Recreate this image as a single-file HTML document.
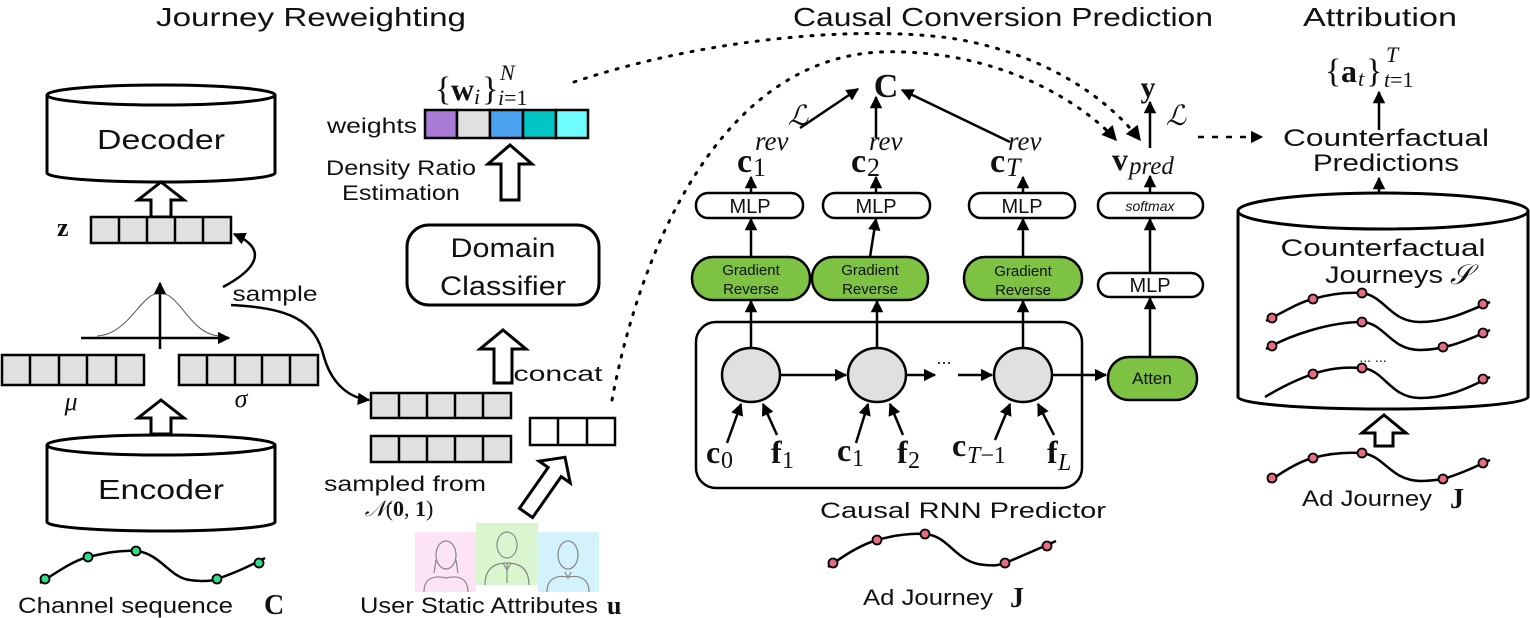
<!DOCTYPE html>
<html><head><meta charset="utf-8"><style>
html,body{margin:0;padding:0;background:#fff}
svg{display:block}
.t{font-family:"Liberation Sans",sans-serif;fill:#111}
.m{font-family:"Liberation Serif",serif;fill:#111}
.b{font-weight:bold}
.i{font-style:italic}
</style></head><body>
<svg width="1530" height="618" viewBox="0 0 1530 618" xmlns="http://www.w3.org/2000/svg">
<defs>
<marker id="ah" viewBox="0 0 10 10" refX="9" refY="5" markerWidth="5" markerHeight="5" orient="auto-start-reverse"><path d="M0,0 L10,5 L0,10 z" fill="#000"/></marker>
</defs>

<!-- Titles -->
<text class="t" x="311" y="26" font-size="26" text-anchor="middle" textLength="310" lengthAdjust="spacingAndGlyphs">Journey Reweighting</text>
<text class="t" x="1003" y="26" font-size="26" text-anchor="middle" textLength="420" lengthAdjust="spacingAndGlyphs">Causal Conversion Prediction</text>
<text class="t" x="1380" y="26" font-size="26" text-anchor="middle" textLength="154" lengthAdjust="spacingAndGlyphs">Attribution</text>

<g stroke="#000" stroke-width="3" fill="none">
<path d="M47,95 L47,173 A114,9 0 0 0 275,173 L275,95" fill="#fff"/>
<ellipse cx="161" cy="95" rx="114" ry="10" fill="#fff"/>
<path d="M47,445 L47,522 A114,9 0 0 0 275,522 L275,445" fill="#fff"/>
<ellipse cx="161" cy="445" rx="114" ry="10" fill="#fff"/>
<polygon points="161,182 184,200 171,200 171,217 151,217 151,200 138,200" fill="#fff"/>
<polygon points="161,400 184,418 171,418 171,434 151,434 151,418 138,418" fill="#fff"/>
<polygon points="510,145 532,164 519,164 519,200 501,200 501,164 488,164" fill="#fff"/>
<polygon points="503,330 526,349 512,349 512,383 494,383 494,349 480,349" fill="#fff"/>
<polygon points="1384,415 1406,433 1393,433 1393,446 1375,446 1375,433 1362,433" fill="#fff"/>
<polygon transform="translate(526,513) rotate(35)" points="0,-68 19,-50 8,-50 8,0 -8,0 -8,-50 -19,-50" fill="#fff"/>
<rect x="407" y="225" width="192" height="80" rx="22" fill="#fff"/>
</g>

<g stroke="#000" stroke-width="2.5">
<g fill="#e0e0e0">
<rect x="91" y="217" width="140" height="26"/>
<rect x="2" y="355" width="142" height="30"/>
<rect x="179" y="355" width="139" height="30"/>
<rect x="371" y="393" width="140" height="25"/>
<rect x="371" y="436" width="140" height="26"/>
</g>
<path d="M119,217v26M147,217v26M175,217v26M203,217v26 M30,355v30M59,355v30M87,355v30M116,355v30 M207,355v30M235,355v30M262,355v30M290,355v30 M399,393v25M427,393v25M455,393v25M483,393v25 M399,436v26M427,436v26M455,436v26M483,436v26"/>
<rect x="530" y="418" width="85" height="27" fill="#fff"/>
<path d="M558,418v27M587,418v27"/>
<rect x="425" y="110" width="32" height="28" fill="#a97bd6"/>
<rect x="457" y="110" width="33" height="28" fill="#e0e0e0"/>
<rect x="490" y="110" width="33" height="28" fill="#4aa3ef"/>
<rect x="523" y="110" width="33" height="28" fill="#00c5c5"/>
<rect x="556" y="110" width="32" height="28" fill="#6ffcfc"/>
</g>

<path d="M97,336 C130,334 140,293 160,293 C180,293 190,334 219,336" stroke="#555" stroke-width="1" fill="none"/>
<line x1="81" y1="338" x2="229" y2="338" stroke="#000" stroke-width="2.5" marker-end="url(#ah)"/>
<line x1="160" y1="349" x2="160" y2="283" stroke="#000" stroke-width="2.5" marker-end="url(#ah)"/>

<path d="M223,287 C255,270 270,250 234,234" stroke="#000" stroke-width="2.5" fill="none" marker-end="url(#ah)"/>
<path d="M231,305 C290,308 315,320 324,357 C332,385 350,398 369,400" stroke="#000" stroke-width="2.5" fill="none" marker-end="url(#ah)"/>

<text class="t" x="161" y="149" font-size="28" text-anchor="middle" textLength="128" lengthAdjust="spacingAndGlyphs">Decoder</text>
<text class="t" x="161" y="499" font-size="28" text-anchor="middle" textLength="126" lengthAdjust="spacingAndGlyphs">Encoder</text>
<text class="m b" x="57" y="236" font-size="26">z</text>
<text class="t" x="275" y="301" font-size="21" text-anchor="middle" textLength="85" lengthAdjust="spacingAndGlyphs">sample</text>
<text class="m i" x="71" y="410" font-size="26" text-anchor="middle">μ</text>
<text class="m i" x="241" y="407" font-size="26" text-anchor="middle">σ</text>
<text class="t" x="372" y="133" font-size="21" text-anchor="middle" textLength="90" lengthAdjust="spacingAndGlyphs">weights</text>
<text class="t" x="401" y="175" font-size="21" text-anchor="middle" textLength="150" lengthAdjust="spacingAndGlyphs">Density Ratio</text>
<text class="t" x="401" y="200" font-size="21" text-anchor="middle" textLength="118" lengthAdjust="spacingAndGlyphs">Estimation</text>
<text class="t" x="503" y="257" font-size="27" text-anchor="middle" textLength="105" lengthAdjust="spacingAndGlyphs">Domain</text>
<text class="t" x="503" y="295" font-size="27" text-anchor="middle" textLength="126" lengthAdjust="spacingAndGlyphs">Classifier</text>
<text class="t" x="558" y="381" font-size="21" text-anchor="middle" textLength="89" lengthAdjust="spacingAndGlyphs">concat</text>
<text class="t" x="405" y="491" font-size="21" text-anchor="middle" textLength="162" lengthAdjust="spacingAndGlyphs">sampled from</text>
<text class="m" x="399" y="516" font-size="22" text-anchor="middle"><tspan class="i">𝒩</tspan>(<tspan class="b">0</tspan>, <tspan class="b">1</tspan>)</text>
<!-- {w_i}_{i=1}^N -->
<text class="m" x="435" y="100" font-size="34">{</text>
<text class="m b" x="451" y="100" font-size="32">w</text>
<text class="m i" x="474" y="104" font-size="22">i</text>
<text class="m" x="482" y="100" font-size="34">}</text>
<text class="m i" x="500" y="80" font-size="22">N</text>
<text class="m" x="498" y="105" font-size="22"><tspan class="i">i</tspan>=1</text>

<path d="M40,583 C60,570 75,560 88,557 C105,553 120,550 136,551 C160,553 170,578 190,580 C205,582 212,581 217,579 C235,573 250,566 265,558" stroke="#000" stroke-width="2.5" fill="none"/>
<g fill="#33dd88" stroke="#000" stroke-width="1.8">
<circle cx="45" cy="579" r="4.5"/><circle cx="88" cy="557" r="4.5"/><circle cx="136" cy="551" r="4.5"/><circle cx="217" cy="579" r="4.5"/><circle cx="259" cy="563" r="4.5"/>
</g>
<text class="t" x="18" y="613" font-size="22" textLength="215" lengthAdjust="spacingAndGlyphs">Channel sequence</text>
<text class="m b" x="264" y="614" font-size="28">C</text>

<rect x="415" y="532" width="61" height="60" fill="#fce4f6"/>
<rect x="476" y="523" width="62" height="62" fill="#d9f6cf"/>
<rect x="538" y="532" width="61" height="60" fill="#d4f2fc"/>
<g stroke="#888" stroke-width="1.2" fill="none">
<ellipse cx="446" cy="555" rx="10" ry="14"/><path d="M436,560 L434,573 M456,560 L458,573 M424,592 C424,578 434,575 446,578 C458,575 468,578 468,592"/>
<ellipse cx="507" cy="545" rx="10" ry="13"/><path d="M485,585 C485,568 495,563 507,563 C519,563 529,568 529,585 M507,563 L507,583 M503,563 L507,570 L511,563"/>
<ellipse cx="568" cy="555" rx="10" ry="14"/><path d="M547,592 C547,578 557,575 568,577 C579,575 589,578 589,592 M565,572 L568,578 L571,572"/>
</g>
<text class="t" x="360" y="613" font-size="22" textLength="238" lengthAdjust="spacingAndGlyphs">User Static Attributes</text>
<text class="m b" x="607" y="614" font-size="26">u</text>

<path d="M574,82 C700,40 850,25 950,38 C1040,52 1105,95 1140,140" stroke="#000" stroke-width="3" stroke-dasharray="2 9" stroke-linecap="round" fill="none" marker-end="url(#ah)"/>
<path d="M612,400 C640,250 720,60 880,52 C1000,48 1085,105 1116,140" stroke="#000" stroke-width="3" stroke-dasharray="2 9" stroke-linecap="round" fill="none" marker-end="url(#ah)"/>

<text class="m b" x="886" y="97" font-size="34" text-anchor="middle">C</text>
<g stroke="#000" stroke-width="2.5" marker-end="url(#ah)">
<line x1="800" y1="128" x2="858" y2="89"/>
<line x1="876" y1="138" x2="876" y2="97"/>
<line x1="1010" y1="142" x2="902" y2="90"/>
<line x1="1150" y1="148" x2="1150" y2="102"/>
</g>
<text class="m i" x="798" y="125" font-size="28" text-anchor="middle">ℒ</text>
<text class="m i" x="1176" y="125" font-size="28" text-anchor="middle">ℒ</text>
<text class="m b" x="1148" y="97" font-size="30" text-anchor="middle">y</text>

<text class="m b" x="737" y="172" font-size="34">c</text><text class="m" x="753" y="176" font-size="26">1</text><text class="m i" x="755" y="150" font-size="27">rev</text>
<text class="m b" x="851" y="172" font-size="34">c</text><text class="m" x="867" y="176" font-size="26">2</text><text class="m i" x="869" y="150" font-size="27">rev</text>
<text class="m b" x="990" y="172" font-size="34">c</text><text class="m i" x="1006" y="176" font-size="26">T</text><text class="m i" x="1008" y="150" font-size="27">rev</text>
<text class="m b" x="1112" y="170" font-size="32">v</text><text class="m i" x="1129" y="174" font-size="25">pred</text>

<line x1="1198" y1="137" x2="1262" y2="137" stroke="#000" stroke-width="2.5" stroke-dasharray="6 8" marker-end="url(#ah)"/>

<g stroke="#000" stroke-width="2.5" fill="#fff">
<rect x="696" y="193" width="107" height="25" rx="12"/>
<rect x="823" y="193" width="107" height="25" rx="12"/>
<rect x="969" y="193" width="106" height="25" rx="12"/>
<rect x="1098" y="193" width="105" height="25" rx="12"/>
<rect x="1098" y="273" width="105" height="24" rx="12"/>
<g fill="#7dc242">
<rect x="692" y="257" width="118" height="43" rx="21"/>
<rect x="812" y="257" width="116" height="43" rx="21"/>
<rect x="964" y="257" width="118" height="43" rx="21"/>
<rect x="1108" y="357" width="89" height="43" rx="21"/>
</g>
<rect x="696" y="322" width="386" height="166" rx="20" fill="none"/>
<g fill="#e0e0e0">
<ellipse cx="751" cy="375" rx="29" ry="27"/>
<ellipse cx="877" cy="375" rx="29" ry="27"/>
<ellipse cx="1023" cy="375" rx="29" ry="27"/>
</g>
</g>
<g class="t" font-size="20" text-anchor="middle">
<text x="750" y="213">MLP</text><text x="876" y="213">MLP</text><text x="1022" y="213">MLP</text><text x="1150" y="292">MLP</text>
</g>
<text class="t i" x="1150" y="211" font-size="14" text-anchor="middle">softmax</text>
<g class="t" font-size="15" text-anchor="middle" fill="#222">
<text x="751" y="275">Gradient</text><text x="751" y="294">Reverse</text>
<text x="870" y="275">Gradient</text><text x="870" y="294">Reverse</text>
<text x="1023" y="276">Gradient</text><text x="1023" y="295">Reverse</text>
<text x="1152" y="384" font-size="17">Atten</text>
</g>

<g stroke="#000" stroke-width="2.5" marker-end="url(#ah)">
<line x1="751" y1="193" x2="751" y2="177"/><line x1="876" y1="193" x2="876" y2="177"/><line x1="1023" y1="193" x2="1023" y2="177"/><line x1="1150" y1="193" x2="1150" y2="176"/>
<line x1="751" y1="257" x2="751" y2="219"/><line x1="870" y1="257" x2="876" y2="219"/><line x1="1023" y1="257" x2="1023" y2="219"/><line x1="1150" y1="273" x2="1150" y2="219"/>
<line x1="751" y1="348" x2="751" y2="301"/><line x1="877" y1="348" x2="877" y2="301"/><line x1="1023" y1="348" x2="1023" y2="301"/><line x1="1150" y1="357" x2="1150" y2="298"/>
<line x1="780" y1="375" x2="846" y2="375"/><line x1="906" y1="375" x2="935" y2="375"/><line x1="958" y1="375" x2="992" y2="375"/><line x1="1052" y1="375" x2="1106" y2="375"/>
<line x1="727" y1="443" x2="741" y2="404"/><line x1="777" y1="435" x2="763" y2="404"/>
<line x1="856" y1="443" x2="868" y2="404"/><line x1="903" y1="435" x2="890" y2="404"/>
<line x1="995" y1="440" x2="1010" y2="404"/><line x1="1054" y1="435" x2="1038" y2="404"/>
</g>
<text class="t" x="944" y="364" font-size="18" text-anchor="middle">...</text>

<text class="m b" x="706" y="463" font-size="32">c</text><text class="m" x="721" y="468" font-size="24">0</text>
<text class="m b" x="771" y="463" font-size="32">f</text><text class="m" x="782" y="468" font-size="24">1</text>
<text class="m b" x="837" y="461" font-size="32">c</text><text class="m" x="852" y="466" font-size="24">1</text>
<text class="m b" x="897" y="463" font-size="32">f</text><text class="m" x="908" y="468" font-size="24">2</text>
<text class="m b" x="952" y="456" font-size="32">c</text><text class="m" x="967" y="463" font-size="24"><tspan class="i">T</tspan>−1</text>
<text class="m b" x="1047" y="463" font-size="32">f</text><text class="m i" x="1058" y="470" font-size="24">L</text>

<text class="t" x="963" y="518" font-size="22" text-anchor="middle" textLength="286" lengthAdjust="spacingAndGlyphs">Causal RNN Predictor</text>

<path d="M828,567 C845,555 860,545 877,540 C895,535 910,533 925,534 C950,536 955,563 985,565 C995,566 1000,565 1005,563 C1022,556 1040,548 1056,541" stroke="#000" stroke-width="2.5" fill="none"/>
<g fill="#e86b7f" stroke="#000" stroke-width="1.8">
<circle cx="833" cy="563" r="4.5"/><circle cx="877" cy="540" r="4.5"/><circle cx="925" cy="534" r="4.5"/><circle cx="1005" cy="563" r="4.5"/><circle cx="1047" cy="546" r="4.5"/>
</g>
<text class="t" x="863" y="605" font-size="22" textLength="130" lengthAdjust="spacingAndGlyphs">Ad Journey</text>
<text class="m b" x="1010" y="607" font-size="28">J</text>

<text class="m" x="1325" y="82" font-size="34">{</text>
<text class="m b" x="1341" y="82" font-size="32">a</text>
<text class="m i" x="1358" y="86" font-size="22">t</text>
<text class="m" x="1366" y="82" font-size="34">}</text>
<text class="m i" x="1386" y="62" font-size="22">T</text>
<text class="m" x="1384" y="87" font-size="22"><tspan class="i">t</tspan>=1</text>
<g stroke="#000" stroke-width="2.5" marker-end="url(#ah)">
<line x1="1379" y1="130" x2="1379" y2="92"/>
<line x1="1379" y1="210" x2="1379" y2="178"/>
</g>
<text class="t" x="1386" y="146" font-size="24" text-anchor="middle" textLength="206" lengthAdjust="spacingAndGlyphs">Counterfactual</text>
<text class="t" x="1386" y="171" font-size="24" text-anchor="middle" textLength="146" lengthAdjust="spacingAndGlyphs">Predictions</text>

<g stroke="#000" stroke-width="3" fill="none">
<path d="M1238,211 L1238,397 A145,12 0 0 0 1528,397 L1528,211"/>
<ellipse cx="1383" cy="211" rx="145" ry="18" fill="#fff"/>
</g>
<text class="t" x="1383" y="256" font-size="24" text-anchor="middle" textLength="205" lengthAdjust="spacingAndGlyphs">Counterfactual</text>
<text class="t" x="1325" y="283" font-size="24" textLength="118" lengthAdjust="spacingAndGlyphs">Journeys</text>
<text class="m i" x="1450" y="284" font-size="28">𝒮</text>

<g stroke="#000" stroke-width="2.5" fill="none">
<path d="M1266,321 C1285,311 1300,302 1313,299 C1330,294 1345,292 1362,293 C1385,296 1390,322 1420,322 C1445,322 1465,313 1490,302"/>
<path d="M1266,349 C1290,335 1330,322 1362,322 C1385,323 1390,350 1420,350 C1440,350 1460,344 1490,330"/>
<path d="M1265,397 C1280,388 1295,380 1313,374 C1330,368 1345,367 1362,368 C1385,370 1390,398 1420,398 C1445,398 1465,390 1490,377"/>
<path d="M1268,482 C1285,470 1300,461 1313,458 C1330,453 1345,452 1362,453 C1385,456 1390,480 1420,481 C1430,481 1436,480 1443,479 C1460,474 1475,467 1490,460"/>
</g>
<text class="t" x="1373" y="362" font-size="14" text-anchor="middle">... ...</text>
<g fill="#e86b7f" stroke="#000" stroke-width="1.8">
<circle cx="1272" cy="318" r="4.5"/><circle cx="1313" cy="299" r="4.5"/><circle cx="1362" cy="293" r="4.5"/><circle cx="1483" cy="304" r="4.5"/>
<circle cx="1272" cy="346" r="4.5"/><circle cx="1362" cy="322" r="4.5"/><circle cx="1443" cy="347" r="4.5"/><circle cx="1483" cy="333" r="4.5"/>
<circle cx="1313" cy="374" r="4.5"/><circle cx="1362" cy="368" r="4.5"/><circle cx="1483" cy="379" r="4.5"/>
<circle cx="1272" cy="478" r="4.5"/><circle cx="1313" cy="458" r="4.5"/><circle cx="1362" cy="453" r="4.5"/><circle cx="1443" cy="479" r="4.5"/><circle cx="1483" cy="463" r="4.5"/>
</g>
<text class="t" x="1302" y="506" font-size="22" textLength="130" lengthAdjust="spacingAndGlyphs">Ad Journey</text>
<text class="m b" x="1450" y="508" font-size="28">J</text>
</svg>
</body></html>
